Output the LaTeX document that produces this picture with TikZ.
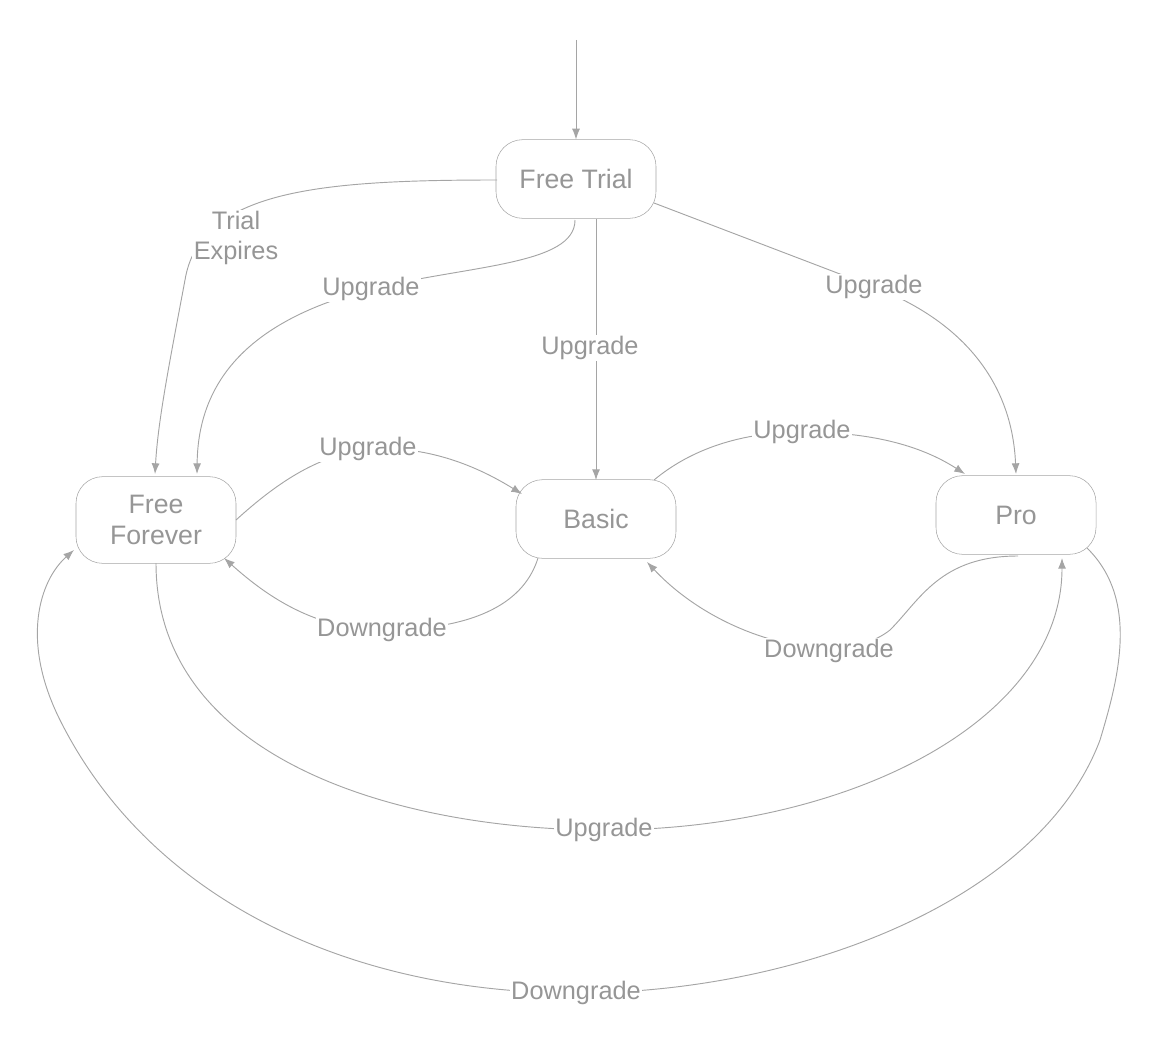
\documentclass[tikz,border=0pt]{standalone}
\usepackage{fontspec}
\setmainfont{Liberation Sans}
\usetikzlibrary{arrows.meta}
\definecolor{txt}{RGB}{150,150,150}
\definecolor{ln}{RGB}{165,165,165}
\begin{document}
\begin{tikzpicture}[x=0.75pt,y=-0.75pt,
  state/.style={draw=ln,rounded corners=20pt,minimum width=120pt,minimum height=59pt,text=txt,font=\fontsize{20pt}{23pt}\selectfont,align=center,fill=white},
  lbl/.style={fill=white,text=txt,font=\fontsize{19pt}{22pt}\selectfont,align=center,inner sep=1pt},
  edge/.style={draw=ln,line width=0.7pt,-{Latex[length=8pt,width=6pt]}}]
\useasboundingbox (0,0) rectangle (1159,1056);
\node[state] (ft) at (576,179) {Free Trial};
\node[state,minimum height=65pt] (ff) at (156,520) {Free\\Forever};
\node[state] (b) at (596,519) {Basic};
\node[state] (p) at (1016,515) {Pro};
\coordinate (s) at (576,40);
\draw[edge] (s) -- (ft);
% Trial expires
\draw[edge] (497,180) .. controls (320,180) and (200,190) .. (185,280) .. controls (170,360) and (158,420) .. (155,474);
\node[lbl] (l1) at (236,238) {Trial\\Expires};
% FT -> FF upgrade
\draw[edge] (575,220) .. controls (575,265) and (470,265) .. (371,289) .. controls (250,320) and (198,380) .. (197,474);
\node[lbl] (l2) at (371,289) {Upgrade};
% FT -> Basic
\draw[edge] (596,219) -- (596,480);
\node[lbl] (l3) at (590,348) {Upgrade};
% FT -> Pro
\draw[edge] (654,203) -- (874,287) .. controls (960,320) and (1012,380) .. (1016,474);
\node[lbl] (l4) at (874,287) {Upgrade};
% FF -> Basic
\draw[edge] (236,520) .. controls (280,480) and (320,455) .. (368,449) .. controls (430,445) and (480,468) .. (522,494);
\node[lbl] (l5) at (368,449) {Upgrade};
% Basic -> Pro
\draw[edge] (654,480) .. controls (690,450) and (740,432) .. (802,432) .. controls (870,432) and (920,445) .. (965,474);
\node[lbl] (l6) at (802,432) {Upgrade};
% Basic -> FF
\draw[edge] (538,558) .. controls (525,600) and (480,630) .. (382,630) .. controls (310,630) and (260,590) .. (224,558);
\node[lbl] (l7) at (382,630) {Downgrade};
% Pro -> Basic
\draw[edge] (1018,556) .. controls (940,556) and (920,600) .. (890,630) .. controls (840,670) and (720,640) .. (647,562);
\node[lbl] (l8) at (829,651) {Downgrade};
% FF -> Pro
\draw[edge] (156,563) .. controls (156,760) and (400,830) .. (604,830) .. controls (850,830) and (1062,720) .. (1062,558);
\node[lbl] (l9) at (604,830) {Upgrade};
% Pro -> FF
\draw[edge] (1087,548) .. controls (1140,600) and (1118,680) .. (1100,740) .. controls (1040,900) and (800,993) .. (576,993) .. controls (350,993) and (150,900) .. (60,720) .. controls (20,640) and (40,580) .. (74,550);
\node[lbl] (l10) at (576,993) {Downgrade};
\end{tikzpicture}
\end{document}
